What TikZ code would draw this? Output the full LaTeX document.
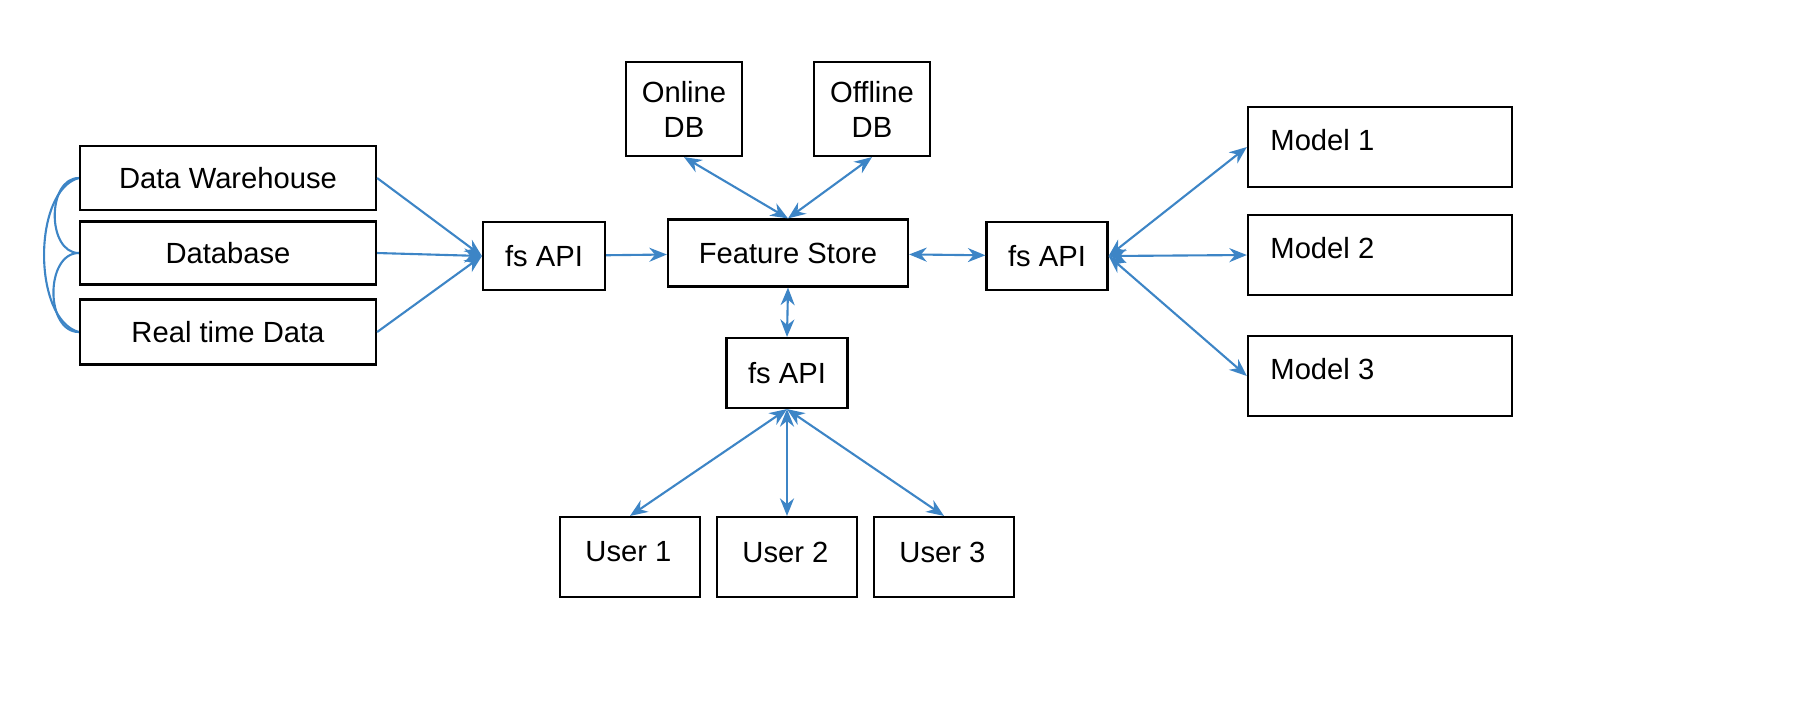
\documentclass[tikz,border=0pt]{standalone}
\usepackage{fontspec}
\setmainfont{Liberation Sans}
\usetikzlibrary{arrows.meta}
\definecolor{linkblue}{HTML}{3D85C6}
\begin{document}
\begin{tikzpicture}[x=0.01cm, y=-0.01cm,
	box/.style={draw, semithick, inner sep=0pt, font=\fontsize{8.3}{10}\selectfont, align=center},
	link/.style={linkblue, semithick, -{Stealth[length=5pt,width=4pt]}},
	dlink/.style={linkblue, semithick, {Stealth[length=5pt,width=4pt]}-{Stealth[length=5pt,width=4pt]}},
	curve/.style={linkblue, semithick}]
	\useasboundingbox (0,0) rectangle (1800,714);
	% sources
	\node[box, minimum width=2.96cm, minimum height=0.64cm] (dw) at (228,178) {Data Warehouse};
	\node[box, minimum width=2.96cm, minimum height=0.63cm] (db) at (228,253) {Database};
	\node[box, minimum width=2.96cm, minimum height=0.65cm] (rt) at (228,332) {Real time Data};
	% apis and store
	\node[box, minimum width=1.22cm, minimum height=0.68cm] (apil) at (544,256) {fs API};
	\node[box, minimum width=2.40cm, minimum height=0.67cm] (fs) at (788,253) {Feature Store};
	\node[box, minimum width=1.16cm, minimum height=0.94cm] (on) at (684,109) {Online\\DB};
	\node[box, minimum width=1.16cm, minimum height=0.94cm] (off) at (872,109) {Offline\\DB};
	\node[box, minimum width=1.21cm, minimum height=0.68cm] (apir) at (1047,256) {fs API};
	\node[box, minimum width=1.21cm, minimum height=0.70cm] (apib) at (787,373) {fs API};
	% models
	\foreach \i/\y in {1/147,2/255,3/376} {
		\node[box, minimum width=2.64cm, minimum height=0.80cm] (m\i) at (1380,\y) {};
		\node[font=\fontsize{8.3}{10}\selectfont, anchor=west] at (1258,\y-7) {Model \i};
	}
	% users
	\foreach \i/\x in {1/630,2/787,3/944} {
		\node[box, minimum width=1.40cm, minimum height=0.80cm] (u\i) at (\x,557) {};
		\node[font=\fontsize{8.3}{10}\selectfont, anchor=west] at (\x-57,552) {User \i};
	}
	% connectors
	\coordinate (hub) at (apil.west);
	\draw[link] (dw.east) -- (hub);
	\draw[link] (db.east) -- (hub);
	\draw[link] (rt.east) -- (hub);
	\draw[link] (apil) -- (fs);
	\draw[dlink] (on.south) -- (fs.north);
	\draw[dlink] (off.south) -- (fs.north);
	\draw[dlink] (fs) -- (apir);
	\foreach \i in {1,2,3} \draw[dlink] (apir.east) -- (m\i.west);
	\draw[dlink] (fs.south) -- (apib.north);
	\foreach \i in {1,2,3} \draw[dlink] (apib.south) -- (u\i.north);
	\draw[curve] (dw.west) to[out=180, in=180, looseness=1.1] (db.west);
	\draw[curve] (db.west) to[out=180, in=180, looseness=1.1] (rt.west);
	\draw[curve] (dw.west) to[out=195, in=165, looseness=0.8] (rt.west);
\end{tikzpicture}
\end{document}
